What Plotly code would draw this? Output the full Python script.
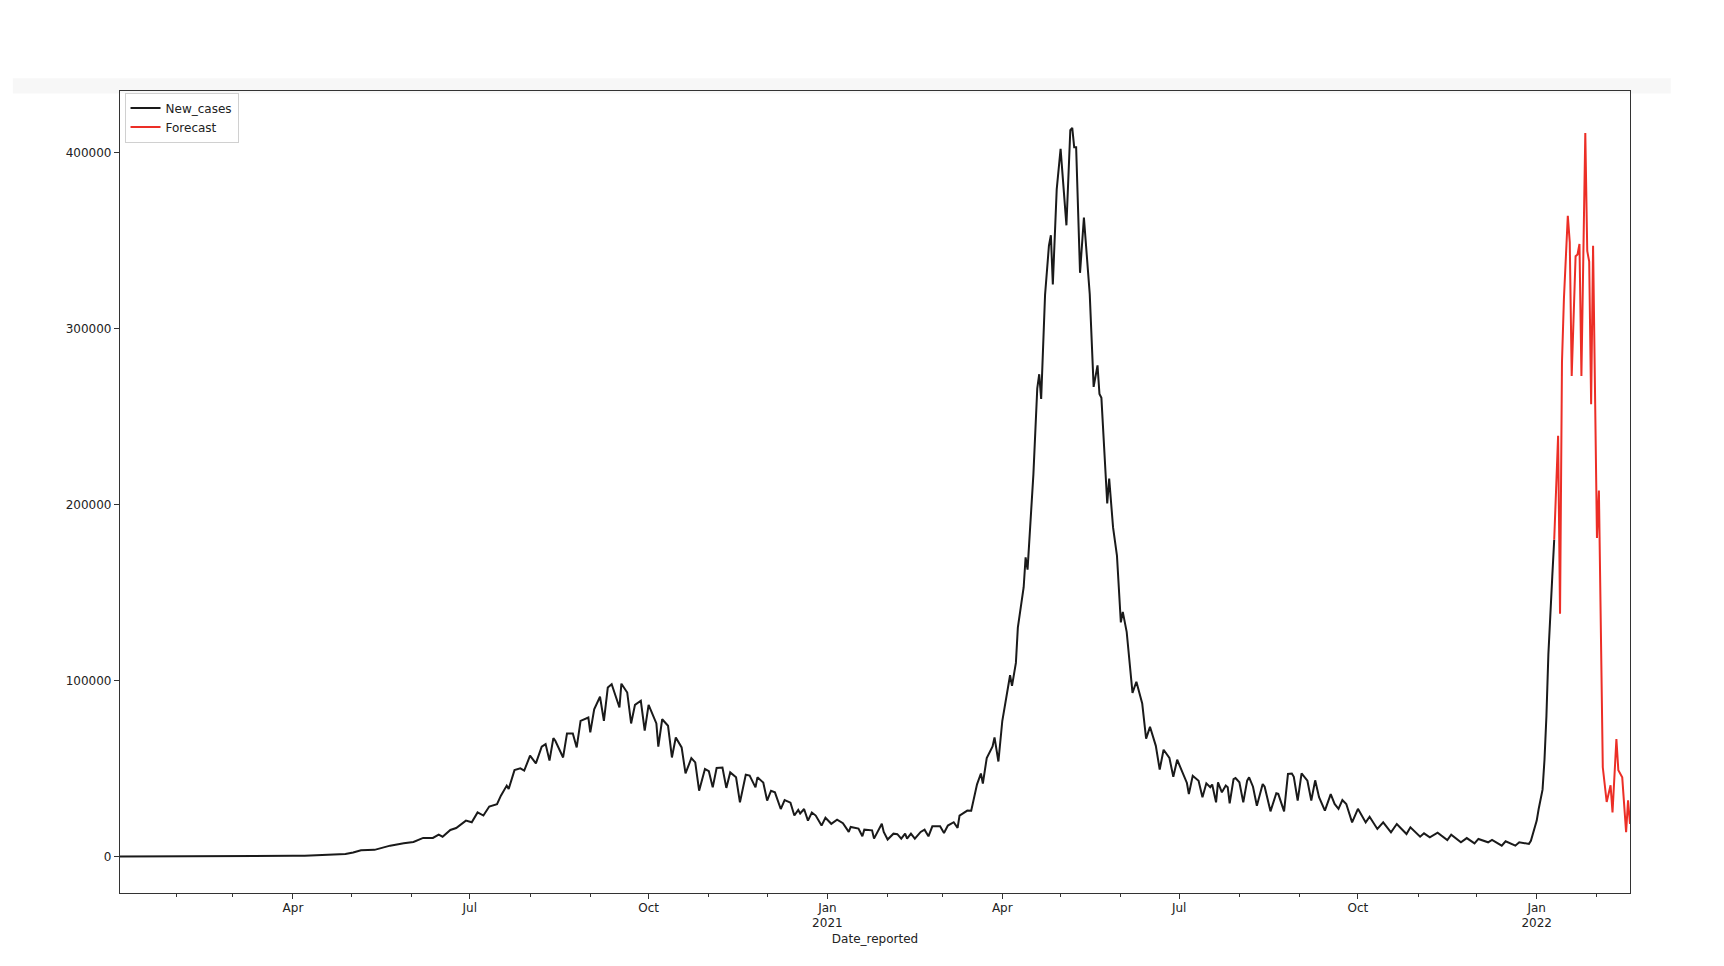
import plotly.graph_objects as go

# daily new cases (irregular dates = turning points)
case_dates = [
    "2020-01-03", "2020-03-01", "2020-03-20", "2020-04-01", "2020-04-07", "2020-04-19",
    "2020-04-28", "2020-05-02", "2020-05-06", "2020-05-13", "2020-05-18", "2020-05-21",
    "2020-05-28", "2020-06-02", "2020-06-07", "2020-06-12", "2020-06-15", "2020-06-17",
    "2020-06-21", "2020-06-24", "2020-06-29", "2020-07-02", "2020-07-05", "2020-07-08",
    "2020-07-11", "2020-07-15", "2020-07-17", "2020-07-20", "2020-07-21", "2020-07-24",
    "2020-07-27", "2020-07-29", "2020-08-01", "2020-08-04", "2020-08-07", "2020-08-09",
    "2020-08-11", "2020-08-13", "2020-08-14", "2020-08-18", "2020-08-20", "2020-08-23",
    "2020-08-25", "2020-08-27", "2020-08-31", "2020-09-01", "2020-09-03", "2020-09-06",
    "2020-09-08", "2020-09-10", "2020-09-12", "2020-09-16", "2020-09-17", "2020-09-20",
    "2020-09-22", "2020-09-24", "2020-09-27", "2020-09-29", "2020-10-01", "2020-10-05",
    "2020-10-06", "2020-10-08", "2020-10-11", "2020-10-13", "2020-10-15", "2020-10-18",
    "2020-10-20", "2020-10-23", "2020-10-25", "2020-10-27", "2020-10-30", "2020-11-01",
    "2020-11-03", "2020-11-05", "2020-11-08", "2020-11-10", "2020-11-12", "2020-11-15",
    "2020-11-17", "2020-11-20", "2020-11-22", "2020-11-25", "2020-11-26", "2020-11-29",
    "2020-12-01", "2020-12-03", "2020-12-05", "2020-12-08", "2020-12-10", "2020-12-13",
    "2020-12-15", "2020-12-17", "2020-12-18", "2020-12-20", "2020-12-22", "2020-12-24",
    "2020-12-26", "2020-12-29", "2020-12-31", "2021-01-03", "2021-01-06", "2021-01-09",
    "2021-01-12", "2021-01-13", "2021-01-17", "2021-01-19", "2021-01-20", "2021-01-24",
    "2021-01-25", "2021-01-29", "2021-01-30", "2021-02-01", "2021-02-04", "2021-02-06",
    "2021-02-08", "2021-02-10", "2021-02-11", "2021-02-13", "2021-02-15", "2021-02-18",
    "2021-02-20", "2021-02-22", "2021-02-24", "2021-02-28", "2021-03-02", "2021-03-04",
    "2021-03-07", "2021-03-09", "2021-03-10", "2021-03-14", "2021-03-16", "2021-03-18",
    "2021-03-19", "2021-03-21", "2021-03-22", "2021-03-24", "2021-03-27", "2021-03-28",
    "2021-03-30", "2021-04-01", "2021-04-03", "2021-04-04", "2021-04-05", "2021-04-06",
    "2021-04-08", "2021-04-09", "2021-04-12", "2021-04-13", "2021-04-14", "2021-04-17",
    "2021-04-19", "2021-04-20", "2021-04-21", "2021-04-23", "2021-04-25", "2021-04-26",
    "2021-04-27", "2021-04-29", "2021-05-01", "2021-05-04", "2021-05-06", "2021-05-07",
    "2021-05-08", "2021-05-09", "2021-05-11", "2021-05-13", "2021-05-16", "2021-05-18",
    "2021-05-20", "2021-05-21", "2021-05-22", "2021-05-25", "2021-05-26", "2021-05-28",
    "2021-05-30", "2021-06-01", "2021-06-02", "2021-06-04", "2021-06-07", "2021-06-09",
    "2021-06-12", "2021-06-14", "2021-06-16", "2021-06-19", "2021-06-21", "2021-06-23",
    "2021-06-26", "2021-06-28", "2021-06-30", "2021-07-05", "2021-07-06", "2021-07-08",
    "2021-07-11", "2021-07-13", "2021-07-15", "2021-07-17", "2021-07-18", "2021-07-20",
    "2021-07-21", "2021-07-23", "2021-07-25", "2021-07-26", "2021-07-27", "2021-07-29",
    "2021-07-30", "2021-08-01", "2021-08-03", "2021-08-05", "2021-08-06", "2021-08-08",
    "2021-08-10", "2021-08-13", "2021-08-14", "2021-08-17", "2021-08-20", "2021-08-21",
    "2021-08-24", "2021-08-26", "2021-08-28", "2021-08-29", "2021-08-31", "2021-09-02",
    "2021-09-05", "2021-09-07", "2021-09-09", "2021-09-11", "2021-09-14", "2021-09-17",
    "2021-09-19", "2021-09-21", "2021-09-23", "2021-09-25", "2021-09-28", "2021-10-01",
    "2021-10-05", "2021-10-07", "2021-10-11", "2021-10-14", "2021-10-18", "2021-10-21",
    "2021-10-26", "2021-10-28", "2021-11-02", "2021-11-04", "2021-11-07", "2021-11-11",
    "2021-11-16", "2021-11-18", "2021-11-23", "2021-11-26", "2021-11-30", "2021-12-02",
    "2021-12-07", "2021-12-09", "2021-12-14", "2021-12-16", "2021-12-21", "2021-12-23",
    "2021-12-28", "2021-12-29", "2021-12-30", "2021-12-31", "2022-01-01", "2022-01-02",
    "2022-01-03", "2022-01-04", "2022-01-05", "2022-01-06", "2022-01-07", "2022-01-08",
    "2022-01-09", "2022-01-10",
]
case_values = [
    0, 0, 50, 400, 500, 1000,
    1400, 2300, 3600, 3800, 5300, 6200,
    7500, 8300, 10600, 10600, 12500, 11300,
    15100, 16200, 20400, 19500, 25100, 23300,
    28400, 29800, 34600, 40300, 38400, 49100,
    50100, 48800, 57300, 52900, 62400, 63900,
    54500, 67300, 65800, 56300, 69900, 69900,
    62000, 77100, 79000, 70500, 83700, 90800,
    77100, 96000, 97900, 84700, 98200, 93200,
    75600, 86200, 88500, 71500, 86200, 75600,
    62400, 78000, 74300, 56300, 67700, 62000,
    47200, 55900, 53500, 37400, 49700, 48500,
    39300, 50300, 50600, 39000, 47800, 45000,
    30800, 46500, 46000, 39300, 45000, 42000,
    31800, 37400, 36500, 27000, 32100, 30600,
    23300, 26500, 24500, 27000, 20400, 25000,
    23300, 17600, 22000, 18600, 21000, 19000,
    14000, 16800, 15900, 11500, 15300, 14900,
    10200, 18600, 14000, 9700, 13000, 12700,
    10200, 13000, 10200, 13000, 10200, 14000,
    15300, 11500, 17200, 17200, 13400, 17600,
    19500, 16300, 23300, 26100, 26000, 37400,
    41000, 47200, 41500, 56000, 62600, 67700,
    54000, 77000, 90000, 98000, 103000, 97000,
    110000, 130000, 153000, 170000, 163000, 217000,
    266000, 274000, 260000, 319000, 347000, 353000,
    325000, 379000, 402000, 358600, 412700, 414000,
    403000, 403000, 331600, 363000, 319500, 266800,
    279000, 262800, 260600, 200600, 214700, 187000,
    171000, 133000, 139000, 127700, 93000, 99300,
    87000, 67000, 73700, 62900, 49400, 60700,
    56000, 45300, 55000, 41800, 35500, 45900,
    43100, 33700, 41600, 39400, 40900, 30800,
    42200, 36500, 40300, 39400, 30200, 44000,
    44600, 42200, 30800, 43100, 45000, 39700,
    28900, 41200, 39700, 25700, 36000, 35600,
    25700, 46900, 47200, 45300, 31800, 47200,
    43100, 31800, 43300, 33700, 26100, 35500,
    29900, 27100, 32100, 29900, 19400, 27100,
    19400, 22600, 15700, 19400, 13800, 18500,
    12800, 16600, 11300, 13200, 10900, 13600,
    9400, 12400, 8100, 10500, 7500, 10000,
    8100, 9400, 6200, 8700, 6200, 8100,
    7200, 9000, 13000, 17000, 20400, 27000,
    33000, 38000, 55000, 80000, 115000, 141000,
    159000, 180000,
]

forecast_dates = [
    "2022-01-10", "2022-01-12", "2022-01-13", "2022-01-14", "2022-01-15", "2022-01-17",
    "2022-01-18", "2022-01-19", "2022-01-21", "2022-01-22", "2022-01-23", "2022-01-24",
    "2022-01-26", "2022-01-27", "2022-01-28", "2022-01-29", "2022-01-30", "2022-02-01",
    "2022-02-02", "2022-02-04", "2022-02-06", "2022-02-08", "2022-02-09", "2022-02-11",
    "2022-02-12", "2022-02-14", "2022-02-16", "2022-02-17", "2022-02-18",
]
forecast_values = [
    180000, 239000, 138000, 281000, 317000, 364000,
    349000, 273000, 341000, 342000, 348000, 273000,
    411000, 344000, 338000, 257000, 347000, 181000,
    208000, 50700, 31000, 40500, 25000, 66700,
    49000, 45000, 13800, 32000, 18500,
]

x_ticks = ["2020-04-01", "2020-07-01", "2020-10-01", "2021-01-01",
           "2021-04-01", "2021-07-01", "2021-10-01", "2022-01-01"]
x_labels = ["Apr", "Jul", "Oct", "Jan<br>2021", "Apr", "Jul", "Oct", "Jan<br>2022"]
y_ticks = [0, 100000, 200000, 300000, 400000]

FONT = "DejaVu Sans, sans-serif"

fig = go.Figure()
fig.add_trace(go.Scatter(
    x=case_dates, y=case_values, mode="lines", name="New_cases",
    line=dict(color="#1a1a1a", width=2)
))
fig.add_trace(go.Scatter(
    x=forecast_dates, y=forecast_values, mode="lines", name="Forecast",
    line=dict(color="#ec2e26", width=2)
))

# faint notebook band across the top
fig.add_shape(type="rect", xref="paper", yref="paper",
              x0=-0.071, x1=1.027, y0=0.997, y1=1.016,
              fillcolor="#f7f7f7", line=dict(width=0), layer="below")

fig.update_layout(
    width=1724, height=966,
    margin=dict(l=112, r=102, t=83, b=81),
    paper_bgcolor="white", plot_bgcolor="rgba(0,0,0,0)",
    font=dict(family=FONT, size=12, color="#222"),
    showlegend=True,
    legend=dict(x=0.003, y=0.998, xanchor="left", yanchor="top",
                bgcolor="white", bordercolor="#d0d0d0", borderwidth=1,
                font=dict(size=12, color="#222"), tracegroupgap=0),
    xaxis=dict(
        type="date", range=["2020-01-03", "2022-02-18"],
        tickvals=x_ticks, ticktext=x_labels,
        ticks="outside", ticklen=5, tickcolor="#333", ticklabelstandoff=-2,
        minor=dict(dtick="M1", tick0="2020-02-01", ticks="outside", ticklen=3, tickcolor="#333"),
        showgrid=False, zeroline=False,
        showline=True, mirror=True, linecolor="#333", linewidth=1.3,
        title=dict(text="Date_reported", font=dict(size=12), standoff=5),
    ),
    yaxis=dict(
        range=[-20700, 434900],
        tickvals=y_ticks, tickformat="d",
        ticks="outside", ticklen=5, tickcolor="#333",
        showgrid=False, zeroline=False,
        showline=True, mirror=True, linecolor="#333", linewidth=1.3,
    ),
)

fig.write_html("out.html")
